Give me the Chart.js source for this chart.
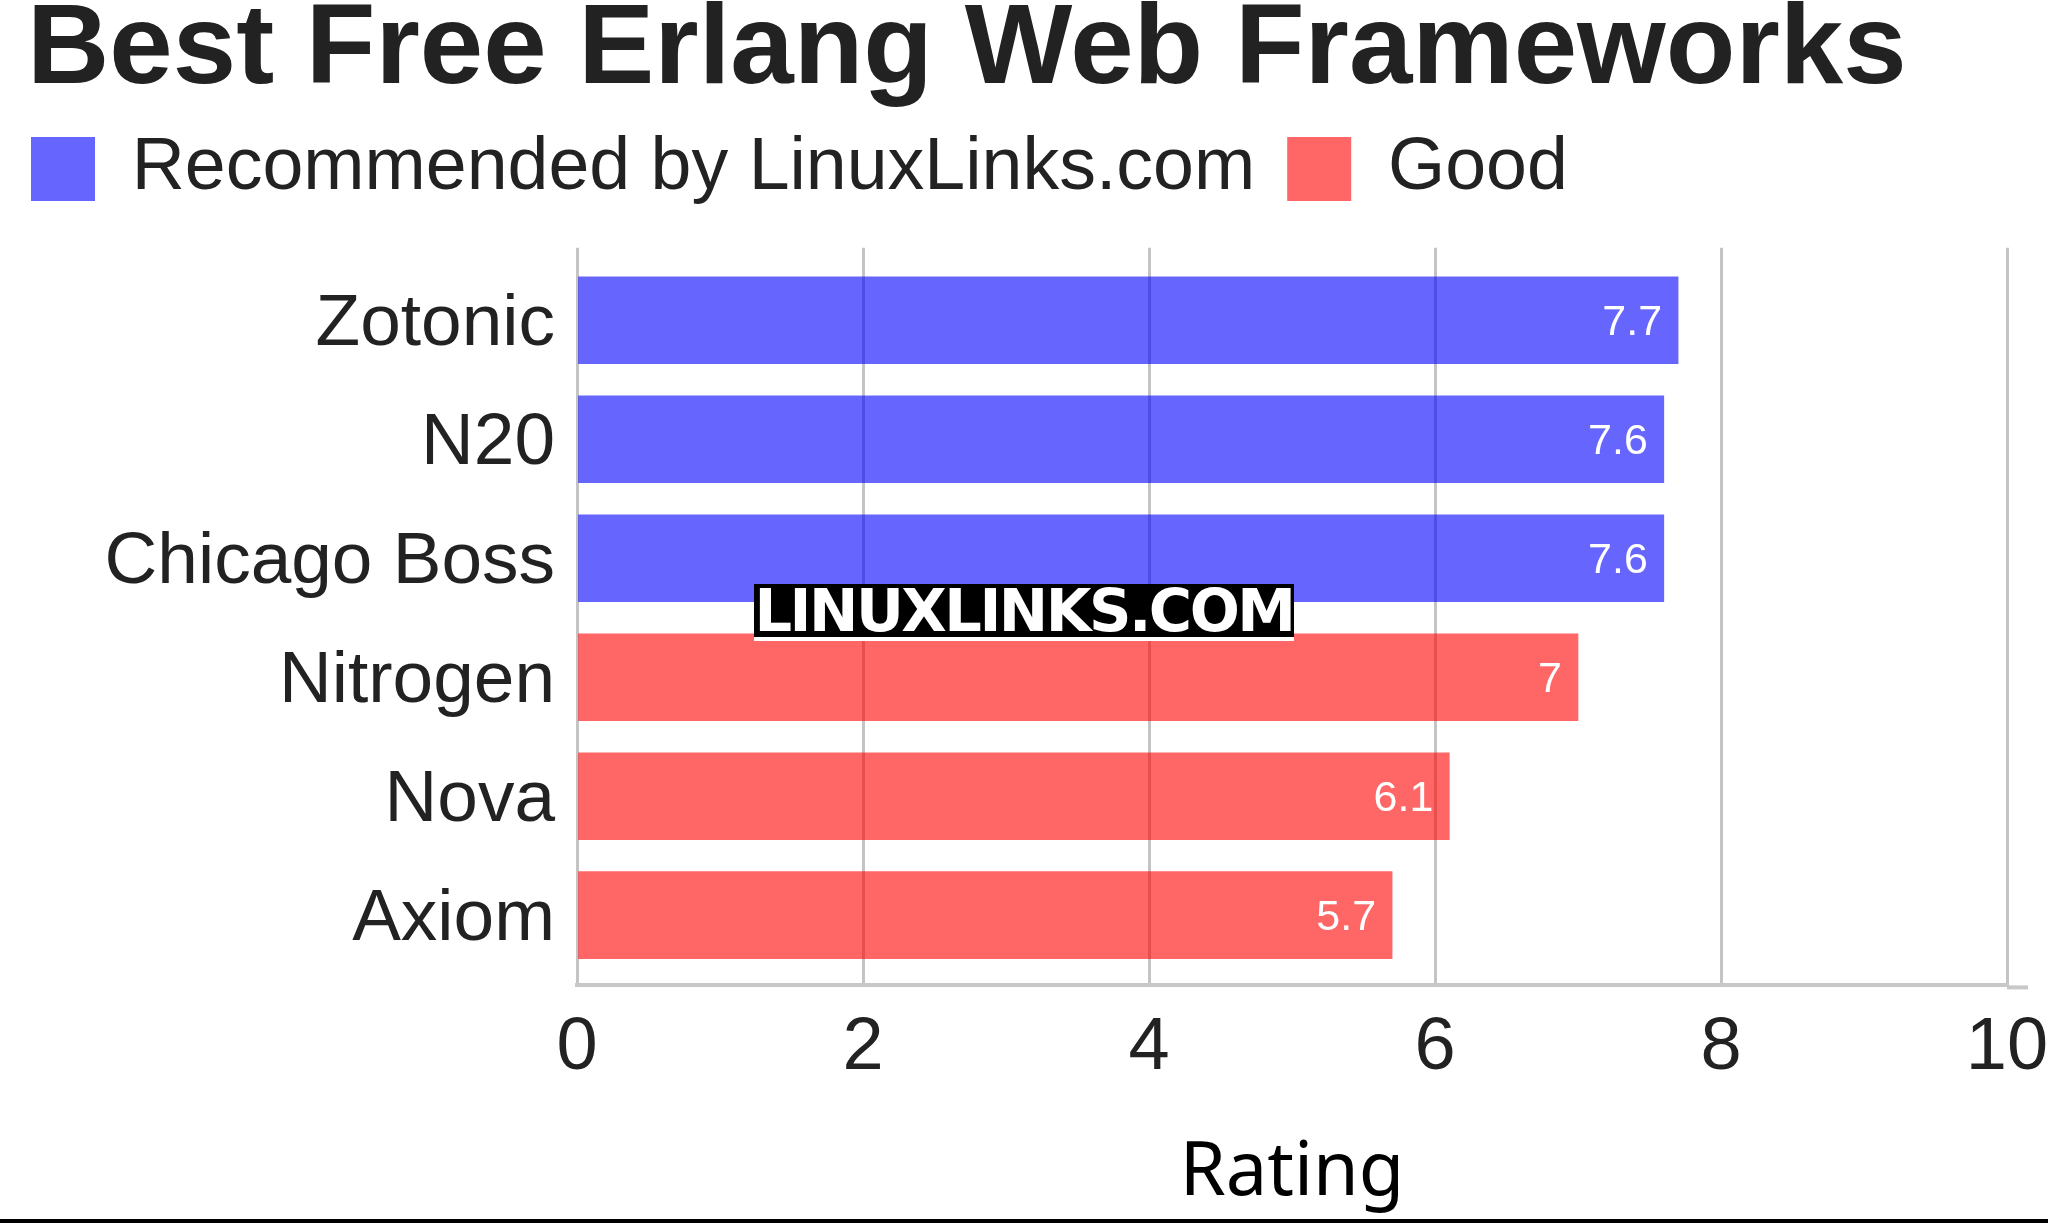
<!DOCTYPE html>
<html>
<head>
<meta charset="utf-8">
<title>Best Free Erlang Web Frameworks</title>
<script src="https://cdn.jsdelivr.net/npm/chart.js@4.4.1/dist/chart.umd.min.js"></script>
<style>
    html, body { margin: 0; padding: 0; background: #fff; }
    #wrap { position: relative; width: 2048px; height: 1219px; border-bottom: 4px solid #000; }
    #watermark {
        position: absolute; left: 754px; top: 584px; width: 540px; height: 53px;
        background: #000; border-bottom: 4px solid #fff;
        color: #fff; font-family: "DejaVu Sans", sans-serif; font-weight: bold;
        font-size: 59px; letter-spacing: -2.5px; line-height: 53px; text-align: center;
    }
</style>
</head>
<body>
<div id="wrap">
    <canvas id="ratingChart" width="2048" height="1219"></canvas>
    <div id="watermark">LINUXLINKS.COM</div>
</div>
<script>
// data
const frameworks = ['Zotonic', 'N20', 'Chicago Boss', 'Nitrogen', 'Nova', 'Axiom'];
const recommended = [7.7, 7.6, 7.6, null, null, null];
const good = [null, null, null, 7, 6.1, 5.7];
const xTicks = [0, 2, 4, 6, 8, 10];

// titik bar: x = nilai, y = posisi kategori
function toPoints(arr) {
    return arr.map((v, i) => ({ x: v, y: i })).filter(p => p.x !== null);
}

// label nilai di ujung bar
const valueLabels = {
    id: 'valueLabels',
    afterDatasetsDraw(chart) {
        const ctx = chart.ctx;
        ctx.save();
        ctx.font = '43px "Liberation Sans"';
        ctx.fillStyle = '#fff';
        ctx.textAlign = 'right';
        ctx.textBaseline = 'middle';
        chart.data.datasets.forEach((ds, di) => {
            chart.getDatasetMeta(di).data.forEach((bar, i) => {
                ctx.fillText(String(ds.data[i].x), bar.x - 16, bar.y + 3);
            });
        });
        ctx.restore();
    }
};

// legend: jarak bawah + geser ke kiri
const legendTweak = {
    id: 'legendTweak',
    beforeUpdate(chart) {
        const lg = chart.legend;
        if (lg && !lg._patched) {
            const fit = lg.fit, draw = lg.draw;
            lg.fit = function () { fit.call(this); this.height += 32; };
            lg.draw = function () { this.left -= 28; draw.call(this); this.left += 28; };
            lg._patched = true;
        }
    }
};

// garis sumbu x sedikit lebih panjang ke kanan
const axisTail = {
    id: 'axisTail',
    afterDraw(chart) {
        const a = chart.chartArea, ctx = chart.ctx;
        ctx.save();
        ctx.strokeStyle = '#c8c8c8';
        ctx.lineWidth = 4;
        ctx.beginPath();
        ctx.moveTo(a.right, a.bottom + 2);
        ctx.lineTo(a.right + 21, a.bottom + 2);
        ctx.stroke();
        ctx.restore();
    }
};

Chart.defaults.font.family = '"Liberation Sans", Arial, sans-serif';
Chart.defaults.color = '#222';

const ctx = document.getElementById('ratingChart').getContext('2d');
const ratingChart = new Chart(ctx, {
    type: 'bar',
    data: {
        datasets: [
            { label: 'Recommended by LinuxLinks.com', data: toPoints(recommended), backgroundColor: 'rgba(0,0,255,0.6)', borderWidth: 0 },
            { label: 'Good', data: toPoints(good), backgroundColor: 'rgba(255,0,0,0.6)', borderWidth: 0 }
        ]
    },
    options: {
        indexAxis: 'y',
        responsive: false,
        animation: false,
        devicePixelRatio: 1,
        layout: { padding: { left: 27, right: 4, top: 0, bottom: 1 } },
        datasets: { bar: { grouped: false, barThickness: 87 } },
        scales: {
            x: {
                type: 'linear',
                min: 0,
                max: 10,
                afterBuildTicks: axis => { axis.ticks = xTicks.map(v => ({ value: v })); },
                afterFit: scale => { scale.paddingRight = 41; },
                ticks: { font: { size: 74 }, color: '#222', padding: 19 },
                grid: { color: '#c4c4c4', lineWidth: 3, drawTicks: false },
                border: { color: '#c8c8c8', width: 4 },
                title: {
                    display: true, text: 'Rating', color: '#000',
                    font: { family: '"Noto Sans", "Open Sans", sans-serif', size: 74 },
                    padding: { top: 17, bottom: 0 }
                }
            },
            y: {
                type: 'linear',
                reverse: true,
                offset: false,
                min: -0.61,
                max: 5.59,
                afterFit: scale => { scale.width = 550; },
                ticks: {
                    stepSize: 1,
                    includeBounds: false,
                    font: { size: 73 },
                    color: '#222',
                    padding: 22,
                    labelOffset: 5,
                    callback: v => frameworks[v] ?? ''
                },
                grid: { display: false, drawTicks: false },
                border: { display: false }
            }
        },
        plugins: {
            title: {
                display: true,
                text: 'Best Free Erlang Web Frameworks',
                align: 'start',
                color: '#222',
                font: { size: 114, weight: 'bold', lineHeight: 0.8 },
                padding: { top: 6, bottom: 3 }
            },
            legend: {
                align: 'start',
                labels: { boxWidth: 64, boxHeight: 64, padding: 32, color: '#222', font: { size: 73.5 } }
            },
            tooltip: { enabled: false }
        }
    },
    plugins: [valueLabels, legendTweak, axisTail]
});
</script>
</body>
</html>
